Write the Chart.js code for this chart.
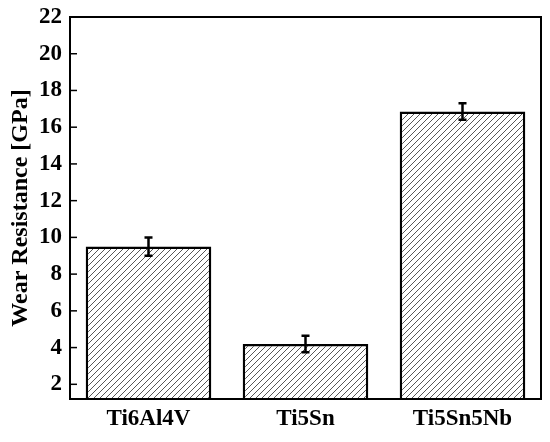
<!DOCTYPE html>
<html>
<head>
<meta charset="utf-8">
<script src="https://cdn.jsdelivr.net/npm/chart.js@4.4.1/dist/chart.umd.min.js"></script>
<style>
  html, body { margin: 0; padding: 0; background: #fff; }
  #wrap { width: 550px; height: 442px; }
</style>
</head>
<body>
<div id="wrap"><canvas id="chart"></canvas></div>
<script>
const alloys = ["Ti6Al4V", "Ti5Sn", "Ti5Sn5Nb"];
const wearResistance = [9.5, 4.2, 16.85];
const wearError = [0.5, 0.45, 0.45];
const yTicks = [2, 4, 6, 8, 10, 12, 14, 16, 18, 20, 22];

const serif = "'Liberation Serif', 'Times New Roman', serif";

// diagonal hatch fill like the original plot
function makeHatch() {
  const size = 6;
  const c = document.createElement("canvas");
  c.width = size;
  c.height = size;
  const g = c.getContext("2d");
  g.fillStyle = "#fff";
  g.fillRect(0, 0, size, size);
  g.strokeStyle = "#444";
  g.lineWidth = 0.9;
  g.beginPath();
  g.moveTo(0, size);
  g.lineTo(size, 0);
  g.moveTo(-1, 1);
  g.lineTo(1, -1);
  g.moveTo(size - 1, size + 1);
  g.lineTo(size + 1, size - 1);
  g.stroke();
  return g.createPattern(c, "repeat");
}

// frame, inward ticks and error bars
const framePlugin = {
  id: "frame",
  afterDatasetsDraw(chart) {
    const { ctx, chartArea: a, scales } = chart;
    const y = scales.y;
    const x = scales.x;
    ctx.save();
    ctx.strokeStyle = "#000";

    // error bars
    ctx.lineWidth = 2.5;
    wearResistance.forEach((v, i) => {
      const cx = x.getPixelForValue(i);
      const top = y.getPixelForValue(v + wearError[i]);
      const bot = y.getPixelForValue(v - wearError[i]);
      ctx.beginPath();
      ctx.moveTo(cx, top);
      ctx.lineTo(cx, bot);
      ctx.moveTo(cx - 4, top);
      ctx.lineTo(cx + 4, top);
      ctx.moveTo(cx - 4, bot);
      ctx.lineTo(cx + 4, bot);
      ctx.stroke();
    });

    // ticks pointing into the plot
    ctx.lineWidth = 1.5;
    yTicks.forEach((t) => {
      const py = y.getPixelForValue(t);
      ctx.beginPath();
      ctx.moveTo(a.left, py);
      ctx.lineTo(a.left + 7, py);
      ctx.stroke();
    });

    ctx.lineWidth = 2;
    ctx.strokeRect(a.left, a.top, a.right - a.left, a.bottom - a.top);
    ctx.restore();
  },
};

new Chart(document.getElementById("chart").getContext("2d"), {
  type: "bar",
  data: {
    labels: alloys,
    datasets: [
      {
        data: wearResistance,
        backgroundColor: makeHatch(),
        borderColor: "#000",
        borderWidth: 2.5,
        borderSkipped: false,
        categoryPercentage: 1,
        barPercentage: 0.8,
      },
    ],
  },
  options: {
    responsive: true,
    maintainAspectRatio: false,
    animation: false,
    layout: {
      padding: { top: 17, right: 9, left: 0, bottom: 0 },
    },
    plugins: {
      legend: { display: false },
      tooltip: { enabled: false },
    },
    scales: {
      x: {
        grid: { display: false, drawTicks: false },
        border: { display: false },
        ticks: {
          color: "#000",
          padding: 6,
          font: { family: serif, size: 23, weight: "bold" },
        },
        afterFit: (s) => {
          s.height = 43;
          s.paddingLeft = 0;
          s.paddingRight = 0;
        },
      },
      y: {
        min: 1.2,
        max: 22,
        grid: { display: false, drawTicks: false },
        border: { display: false },
        afterBuildTicks: (s) => {
          s.ticks = yTicks.map((v) => ({ value: v }));
        },
        ticks: {
          color: "#000",
          padding: 8,
          font: { family: serif, size: 23, weight: "bold" },
        },
        title: {
          display: true,
          text: "Wear Resistance [GPa]",
          color: "#000",
          padding: { top: 6, bottom: 0 },
          font: { family: serif, size: 24, weight: "bold" },
        },
        afterFit: (s) => {
          s.width = 70;
          s.paddingTop = 0;
          s.paddingBottom = 0;
        },
      },
    },
  },
  plugins: [framePlugin],
});
</script>
</body>
</html>
